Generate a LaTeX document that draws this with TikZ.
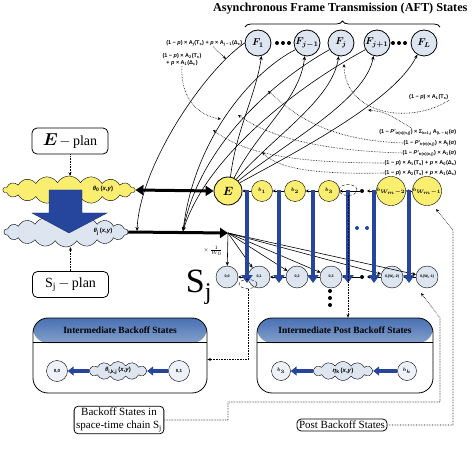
\documentclass[tikz,border=0pt]{standalone}
\usepackage{amsmath,amssymb}
\usepackage{bm}
\usepackage{fontspec}
\setmainfont{Liberation Serif}
\setsansfont{Liberation Sans}
\usetikzlibrary{arrows.meta,calc,positioning,shapes.symbols,shapes.geometric,decorations.pathreplacing}

\definecolor{stateyellow}{RGB}{250,238,112}
\definecolor{statelight}{RGB}{221,229,241}
\definecolor{arrowblue}{RGB}{38,70,158}
\definecolor{headblue}{RGB}{72,112,178}

\tikzset{
  fstate/.style={circle,draw,thick,fill=statelight,minimum size=26pt,inner sep=0pt,font=\fontsize{10}{10}\selectfont},
  ystate/.style={circle,draw,fill=stateyellow,minimum size=21pt,inner sep=0pt,font=\fontsize{5}{5}\selectfont},
  sstate/.style={circle,draw,fill=statelight,minimum size=22pt,inner sep=0pt,font=\sffamily\bfseries\fontsize{3.6}{4}\selectfont},
  istate/.style={circle,draw,fill=statelight!50,minimum size=21pt,inner sep=0pt,font=\sffamily\bfseries\fontsize{4.5}{5}\selectfont},
  dotnode/.style={circle,fill,minimum size=4pt,inner sep=0pt},
  prob/.style={font=\sffamily\bfseries\fontsize{5.5}{6.5}\selectfont,inner sep=0.5pt},
  ptr/.style={densely dotted,semithick,-{Stealth[length=3.5pt,width=3pt]}},
  trans/.style={semithick,-{Stealth[length=4pt,width=3.5pt]}},
  hop/.style={semithick,-{Stealth[length=3pt,width=3pt]}},
  fat/.style={line width=3pt,-{Triangle[length=8pt,width=10pt]}},
  bluearrow/.style={draw=arrowblue,line width=4.5pt,-{Triangle[length=8pt,width=11pt]}},
  smallblue/.style={draw=arrowblue,line width=3.5pt,-{Triangle[length=6pt,width=9pt]}},
  planbox/.style={draw,thick,rounded corners=5pt,fill=white,minimum width=76pt,minimum height=26pt,inner sep=1pt},
  labelbox/.style={draw,thick,rounded corners=4pt,fill=white,align=center,font=\fontsize{11}{12.5}\selectfont,inner sep=2pt},
  groupbox/.style={draw,thick,rounded corners=15pt,minimum width=#1,minimum height=75pt,
    path picture={\shade[top color=headblue,bottom color=white] (path picture bounding box.north west) rectangle ([yshift=-25pt]path picture bounding box.north east);}},
  header/.style={font=\bfseries\fontsize{9.5}{10}\selectfont},
  cloudy/.style={cloud,cloud puffs=#1,cloud puff arc=120,cloud ignores aspect,draw,inner sep=0pt},
  loopmark/.style={ellipse,draw,densely dashed,minimum width=18pt,minimum height=11pt,inner sep=0pt},
  cloudtext/.style={font=\sffamily\bfseries\fontsize{6}{7}\selectfont,inner sep=0pt}
}

\begin{document}
\begin{tikzpicture}[x=1pt,y=-1pt]
\useasboundingbox (0,0) rectangle (474,457);

\node[font=\bfseries\fontsize{12.2}{13}\selectfont,anchor=east] (title) at (471,9) {Asynchronous Frame Transmission (AFT) States};
\draw[thick,decorate,decoration={brace,amplitude=6pt}] (245,27) -- (440,27);

\node[fstate] (F1) at (258,43) {$\bm{F_1}$};
\node[fstate] (Fjm) at (307,43) {$\bm{F_{j-1}}$};
\node[fstate] (Fj) at (341,43) {$\bm{F_j}$};
\node[fstate] (Fjp) at (377,43) {$\bm{F_{j+1}}$};
\node[fstate] (FL) at (424,43) {$\bm{F_L}$};
\foreach \x [count=\i] in {277,283,289} \node[dotnode] (da\i) at (\x,43) {};
\foreach \x [count=\i] in {393,399,405} \node[dotnode] (db\i) at (\x,43) {};

\node[planbox] (eplan) at (70,141) {{\fontsize{17}{17}\selectfont$\bm{E}$}\,{\fontsize{14}{14}\selectfont$-$\,plan}};
\node[planbox] (splan) at (70.5,284.5) {\fontsize{14}{14}\selectfont S\textsubscript{j}\,$-$\,plan};

\node[cloudy=18,fill=stateyellow,minimum width=132pt,minimum height=28pt] (c0) at (69,190) {};
\node[cloudtext] (t0) at (103,189) {\textit{θ}\textsubscript{0}\,(\textit{x},\textit{y})};
\node[cloudy=18,fill=statelight,minimum width=124pt,minimum height=30pt] (c1) at (66,232) {};
\node[cloudtext] (t1) at (103,232) {\textit{θ}\textsubscript{j}\,(\textit{x},\textit{y})};
\filldraw[fill=arrowblue,draw=arrowblue!70!black] (49,190) -- (82,190) -- (82,213) -- (107,213) -- (69,233) -- (32,213) -- (49,213) -- cycle;

\draw[ptr] (eplan.south) -- (c0.north -| eplan.south);
\draw[ptr] (splan.north) -- (c1.south -| splan.north);

\node[font=\fontsize{34}{34}\selectfont] (sj) at (199,287) {S\textsubscript{j}};

\node[circle,draw,thick,fill=stateyellow,minimum size=28pt,inner sep=0pt,font=\fontsize{12}{12}\selectfont] (E) at (228,191) {$\bm{E}$};
\node[ystate] (b1) at (262,191) {$\bm{b_1}$};
\node[ystate] (b2) at (295,191) {$\bm{b_2}$};
\node[ystate] (b3) at (329,191) {$\bm{b_3}$};
\node[dotnode] (dtop) at (362,191) {};
\coordinate (dtopr) at (367,191);
\node[ystate,font=\fontsize{3.4}{4}\selectfont] (bm2) at (391,191) {$\bm{b_{W_m-2}}$};
\node[ystate,font=\fontsize{3.4}{4}\selectfont] (bm1) at (427,191) {$\bm{b_{W_m-1}}$};

\node[sstate] (s00) at (227,277) {0,0};
\node[sstate] (s01) at (259,277) {0,1};
\node[sstate] (s02) at (297,277) {0,2};
\node[sstate] (s03) at (331,277) {0,3};
\node[dotnode] (dbot) at (362,277) {};
\coordinate (dbotr) at (367,277);
\node[sstate] (sm2) at (392,277) {0,(W\textsubscript{0}-2)};
\node[sstate] (sm1) at (427,277) {0,(W\textsubscript{0}-1)};

\draw[fat,{Triangle[length=8pt,width=10pt]}-{Triangle[length=8pt,width=10pt]}] (c0.east) -- (E.west);
\coordinate (fan) at (228,233);
\coordinate (ra) at (137,231);
\coordinate (rb) at (183,231);
\draw[fat] (c1.east) -- (fan);

\draw[trans] (fan) -- (s00);
\foreach \n in {s01,s02,s03,sm2,sm1} \draw[trans] (fan) -- (\n);
\node[font=\fontsize{5}{5}\selectfont] (w0) at (213,251) {$\times\,\frac{1}{W_0}$};

\draw[hop] (b1) -- (E);
\draw[hop] (b2) -- (b1);
\draw[hop] (b3) -- (b2);
\draw[hop] (dtop) -- (b3);
\draw[hop] (bm2) -- (dtopr);
\draw[hop] (bm1) -- (bm2);
\draw[hop] (s01) -- (s00);
\draw[hop] (s02) -- (s01);
\draw[hop] (s03) -- (s02);
\draw[hop] (dbot) -- (s03);
\draw[hop] (sm2) -- (dbotr);
\draw[hop] (sm1) -- (sm2);

\foreach \x [count=\i] in {247,279,313,348,374,409} {
  \coordinate (vt\i) at (\x,190);
  \coordinate (vb\i) at (\x,283);
  \draw[bluearrow] (vt\i) -- (vb\i);
}
\node[loopmark] (lm1) at (348,190) {};
\node[loopmark,minimum height=9pt] (lm2) at (248,284) {};
\node[dotnode,fill=arrowblue] (bd1) at (357,228) {};
\node[dotnode,fill=arrowblue] (bd2) at (367,228) {};
\foreach \y [count=\i] in {291,298,305} \node[dotnode] (dc\i) at (330,\y) {};

\draw[trans] (E.80) .. controls (236,130) and (256,95) .. (F1.-75);
\draw[trans] (E.65) .. controls (258,130) and (300,100) .. (Fjm.-100);
\draw[trans] (E.55) .. controls (275,135) and (332,100) .. (Fj.-100);
\draw[trans] (E.45) .. controls (290,140) and (365,100) .. (Fjp.-105);
\draw[trans] (E.35) .. controls (300,150) and (395,100) .. (FL.-120);
\draw[trans] (F1.west) .. controls (205,70) and (140,165) .. (ra);
\draw[trans] (Fjm.-150) .. controls (255,70) and (195,135) .. (rb);
\draw[trans] (Fj.-150) .. controls (275,80) and (200,145) .. (rb);
\draw[trans] (Fjp.-150) .. controls (300,85) and (207,155) .. (rb);

\node[prob,anchor=east] (l1) at (243,43) {(1 − \textit{p}) × A\textsubscript{j}(T\textsubscript{s}) + \textit{p} × A\textsubscript{j − 1}(Δ\textsubscript{c})};
\node[prob,align=center,anchor=north] (l2) at (182,53) {(1 − \textit{p}) × A\textsubscript{2}(T\textsubscript{s})\\+ \textit{p} × A\textsubscript{1}(Δ\textsubscript{c})};
\node[prob,anchor=east] (l3) at (449,97) {(1 − \textit{p}) × A\textsubscript{L}(T\textsubscript{s})};
\node[prob,anchor=east] (l4) at (457,132) {(1 − \textit{P′}\textsubscript{tr(n)(n,j)}) × Σ\textsubscript{k=1,j} A\textsubscript{(L − k)}(σ)};
\node[prob,anchor=east] (l5) at (457,143) {(1 − \textit{P′}\textsubscript{tr(n)(n,j)}) × A\textsubscript{j}(σ)};
\node[prob,anchor=east] (l6) at (457,153) {(1 − \textit{P′}\textsubscript{tr(n)(n,j)}) × A\textsubscript{1}(σ)};
\node[prob,anchor=east] (l7) at (457,163) {(1 − \textit{p}) × A\textsubscript{1}(T\textsubscript{s}) + \textit{p} × A\textsubscript{0}(Δ\textsubscript{c})};
\node[prob,anchor=east] (l8) at (457,173) {(1 − \textit{p}) × A\textsubscript{2}(T\textsubscript{s}) + \textit{p} × A\textsubscript{1}(Δ\textsubscript{c})};

\coordinate (p1) at (226,59);
\coordinate (p2) at (221,119);
\coordinate (p3) at (344,64);
\coordinate (p4) at (368,110);
\coordinate (p5) at (268,91);
\coordinate (p6) at (238,115);
\coordinate (p7) at (213,130);
\coordinate (p8) at (262,152);
\draw[ptr] ([xshift=-30pt]l1.south east) -- (p1);
\draw[ptr] (l2.south) .. controls (180,100) and (200,116) .. (p2);
\draw[ptr] (l3.south east) .. controls (410,125) and (345,115) .. (p3);
\draw[ptr] ([xshift=-45pt]l4.north east) .. controls (385,112) .. (p4);
\draw[ptr] (l5.west) .. controls (320,140) and (290,110) .. (p5);
\draw[ptr] (l6.west) .. controls (300,150) and (260,130) .. (p6);
\draw[ptr] (l7.west) .. controls (280,163) and (240,150) .. (p7);
\draw[ptr] (l8.west) .. controls (300,175) and (275,165) .. (p8);

\node[groupbox=174pt] (ibox) at (120,355.5) {};
\draw[thick] ([yshift=-25pt]ibox.north west) -- ([yshift=-25pt]ibox.north east);
\node[header] (ihead) at ([yshift=-13pt]ibox.north) {Intermediate Backoff States};
\node[istate] (i00) at (57,371) {0,0};
\node[istate] (i01) at (179,371) {0,1};
\node[cloudy=12,fill=statelight,minimum width=58pt,minimum height=19pt,cloudtext] (ic) at (118,371) {\textit{θ}\textsubscript{i,k,j}\,(\textit{x},\textit{y})};
\draw[smallblue] (i01) -- (ic);
\draw[smallblue] (ic) -- (i00);

\node[groupbox=176pt] (pbox) at (345,355.5) {};
\draw[thick] ([yshift=-25pt]pbox.north west) -- ([yshift=-25pt]pbox.north east);
\node[header] (phead) at ([yshift=-13pt]pbox.north) {Intermediate Post Backoff States};
\node[istate,minimum size=19pt,font=\fontsize{5}{5}\selectfont] (pb3) at (281,371) {$\bm{b_3}$};
\node[istate,minimum size=19pt,font=\fontsize{5}{5}\selectfont] (pbk) at (407,371) {$\bm{b_k}$};
\node[cloudy=12,fill=statelight,minimum width=60pt,minimum height=19pt,cloudtext] (pc) at (343,371) {\textit{η}\textsubscript{k}\,(\textit{x},\textit{y})};
\draw[smallblue] (pbk) -- (pc);
\draw[smallblue] (pc) -- (pb3);

\node[labelbox] (blab) at (119,420) {Backoff States in\\space-time chain S\textsubscript{j}};
\node[labelbox] (plab) at (342,425) {Post Backoff States};

\draw[ptr] (lm1.south) -- (lm1.south |- pbox.north);
\draw[ptr] (lm2.south) |- ([yshift=-4pt]ibox.east);
\coordinate (tosm1) at (421,293);
\coordinate (tobm1) at (436,209);
\draw[ptr] (blab.east) -| (228,402) -| (440,318) -- (tosm1);
\draw[ptr] (plab.east) -| (453,230) -- (tobm1);
\end{tikzpicture}
\end{document}
